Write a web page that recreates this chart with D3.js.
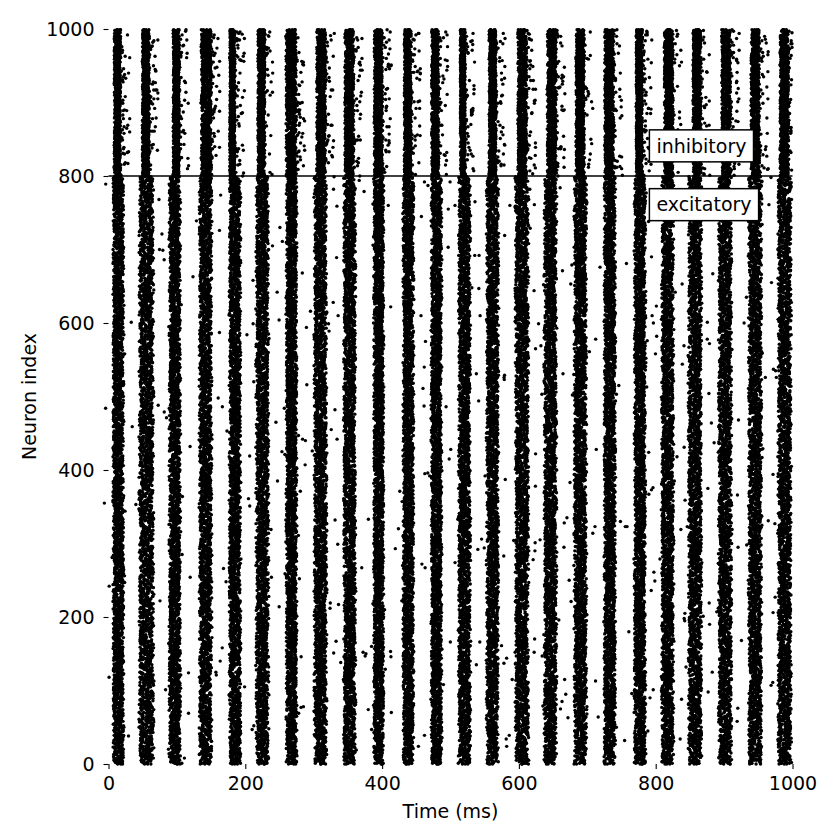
<!DOCTYPE html>
<html>
<head>
<meta charset="utf-8">
<script src="https://cdn.jsdelivr.net/npm/d3@7"></script>
<style>
  body { margin: 0; background: #fff; }
  svg { display: block; font-family: "DejaVu Sans", sans-serif; }
</style>
</head>
<body>
<svg id="chart" width="840" height="840"></svg>
<script>
// Population burst spans (ms)
const excStart = [5, 43, 87, 131, 175, 214, 258, 299, 342, 386, 429, 470, 510, 551, 593, 635, 679, 723, 767, 807, 846, 890, 934, 977];
const excEnd   = [24, 68, 107, 153, 195, 236, 277, 321, 363, 404, 448, 489, 531, 572, 616, 657, 701, 743, 787, 828, 869, 913, 957, 1000];
const inhStart = [7, 48, 93, 134, 176, 217, 258, 303, 344, 387, 431, 471, 513, 555, 597, 640, 682, 724, 770, 811, 853, 895, 938, 980];
const inhEnd   = [19, 61, 105, 152, 186, 230, 276, 319, 360, 402, 444, 484, 523, 568, 613, 656, 697, 740, 782, 827, 868, 911, 953, 996];

const nExc = 800;
const nInh = 200;
const xTicks = [0, 200, 400, 600, 800, 1000];
const yTicks = [0, 200, 400, 600, 800, 1000];
const labels = [
    { text: "inhibitory", t: 801, n: 841 },
    { text: "excitatory", t: 801, n: 761 }
];

// single dots cannot be read off the picture, so each neuron's spikes are
// placed inside the read burst span by a fixed integer hash of (neuron, burst)
function hash(a) {
    a ^= a >>> 16;
    a = Math.imul(a, 0x85ebca6b);
    a ^= a >>> 13;
    a = Math.imul(a, 0xc2b2ae35);
    a ^= a >>> 16;
    return (a >>> 0) / 4294967296;
}
const h = (i, k, j) => hash(hash(i * 7919 + 17) * 4294967296 ^ (k * 131 + j) * 0x9e3779b1);

const spikes = [];
excStart.forEach((s, k) => {
    const w = excEnd[k] - s - 2.5;
    for (let i = 0; i < nExc; i++) {
        for (let j = 0; j < 3; j++) {
            const u1 = h(i, k, j * 3), u2 = h(i, k, j * 3 + 1), u3 = h(i, k, j * 3 + 2);
            let t = s + 1.2 + w * (0.15 * u1 + 0.85 * u2);
            if (u3 < 0.009) t = s + 1.2 + w * (u1 * 2.6 - 0.8);
            if (t <= 1000) spikes.push({ t: t, n: i });
        }
    }
});
inhStart.forEach((s, k) => {
    const w = inhEnd[k] - s - 2.5;
    for (let i = 0; i < nInh; i++) {
        for (let j = 0; j < 4; j++) {
            const u1 = h(i + 1000, k, j * 3), u2 = h(i + 1000, k, j * 3 + 1), u3 = h(i + 1000, k, j * 3 + 2);
            let t = s + 1.2 + w * (0.1 * u1 + 0.9 * u2);
            if (u3 < 0.09) t = s + 1.2 + w * 0.75 + 16 * Math.pow(u1, 2);
            if (t <= 1000) spikes.push({ t: t, n: nExc + i });
        }
    }
});

const svg = d3.select("#chart");
const x = d3.scaleLinear().domain([0, 1000]).range([108.5, 792.5]);
const y = d3.scaleLinear().domain([0, 1000]).range([764, 29]);

svg.append("g")
    .selectAll("circle")
    .data(spikes)
    .join("circle")
    .attr("cx", d => x(d.t))
    .attr("cy", d => y(d.n))
    .attr("r", 1.7)
    .attr("fill", "#000");

// population boundary
svg.append("line")
    .attr("x1", x(0)).attr("x2", x(1000))
    .attr("y1", y(nExc)).attr("y2", y(nExc))
    .attr("stroke", "#000")
    .attr("stroke-width", 1.5);

const xAxis = svg.append("g")
    .attr("transform", `translate(0,${y(0)})`)
    .call(d3.axisBottom(x).tickValues(xTicks).tickSize(5).tickPadding(8).tickFormat(d3.format("d")));
const yAxis = svg.append("g")
    .attr("transform", `translate(${x(0)},0)`)
    .call(d3.axisLeft(y).tickValues(yTicks).tickSize(5).tickPadding(9).tickFormat(d3.format("d")));

[xAxis, yAxis].forEach(g => {
    g.select(".domain").remove();
    g.selectAll(".tick line").attr("stroke", "#000").attr("stroke-width", 1.1);
    g.selectAll(".tick text")
        .attr("fill", "#000")
        .style("font-family", "DejaVu Sans")
        .style("font-size", "19px");
});

svg.append("text")
    .attr("x", (x(0) + x(1000)) / 2)
    .attr("y", 818)
    .attr("text-anchor", "middle")
    .style("font-size", "19px")
    .text("Time (ms)");

svg.append("text")
    .attr("transform", `translate(36,${(y(0) + y(1000)) / 2}) rotate(-90)`)
    .attr("text-anchor", "middle")
    .style("font-size", "19px")
    .text("Neuron index");

// boxed population labels
const lab = svg.append("g")
    .selectAll("g")
    .data(labels)
    .join("g")
    .attr("transform", d => `translate(${x(d.t)},${y(d.n)})`);
lab.append("text")
    .attr("dy", "0.35em")
    .style("font-size", "19px")
    .text(d => d.text);
lab.each(function () {
    const g = d3.select(this);
    const b = g.select("text").node().getBBox();
    g.insert("rect", "text")
        .attr("x", b.x - 7)
        .attr("y", -16)
        .attr("width", b.width + 14)
        .attr("height", 32)
        .attr("fill", "#fff")
        .attr("stroke", "#000")
        .attr("stroke-width", 1.5);
});
</script>
</body>
</html>
